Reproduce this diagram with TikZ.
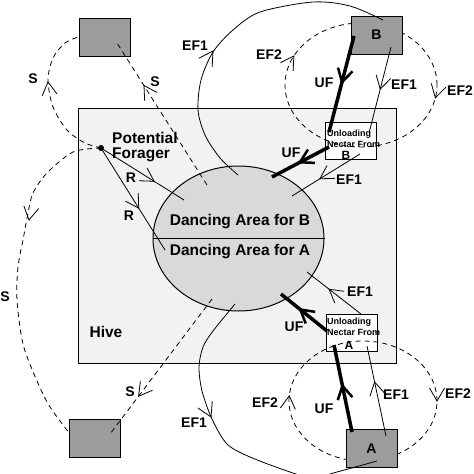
\documentclass[tikz,border=0pt]{standalone}
\usepackage{fontspec}
\setmainfont{Liberation Sans}
\usetikzlibrary{calc,shapes.geometric}
\definecolor{hivegray}{HTML}{F2F2F2}
\definecolor{dancegray}{HTML}{D9D9D9}
\definecolor{boxgray}{HTML}{9C9C9C}
\tikzset{
  lbl/.style={font=\fontsize{14}{14}\selectfont\bfseries, inner sep=0pt},
  mid/.style={font=\fontsize{12}{12}\selectfont\bfseries, inner sep=0pt},
  big/.style={font=\fontsize{15.5}{16}\selectfont\bfseries, inner sep=0pt},
  small/.style={font=\fontsize{9}{9}\selectfont\bfseries, inner sep=0pt},
  ln/.style={line width=0.8pt},
  dsh/.style={line width=0.8pt, dash pattern=on 5pt off 4pt},
  uf/.style={line width=3.5pt},
  hivebox/.style={draw, line width=1pt, fill=hivegray, inner sep=0pt},
  dance/.style={draw, line width=1pt, fill=dancegray, inner sep=0pt},
  ubox/.style={draw, line width=1pt, fill=white, minimum width=51pt, minimum height=37pt, inner sep=0pt},
  food/.style={draw, line width=1pt, fill=boxgray, minimum width=51pt, minimum height=38pt, inner sep=0pt, font=\fontsize{14}{14}\selectfont\bfseries},
}
% chevron: [line width]{tip}{direction angle}{arm length}
\newcommand\chv[4][0.8pt]{\draw[line width=#1, line join=miter, solid] (#2) ++(#3+150:#4) -- (#2) -- ++(#3-150:#4);}
\begin{document}
\begin{tikzpicture}[x=1pt,y=-1pt]
\useasboundingbox (0,0) rectangle (474,474);
\clip (0,0) rectangle (474,474);
\fill[white] (0,0) rectangle (474,474);
% hive and dancing area
\node[hivebox, minimum width=318pt, minimum height=255pt] (hive) at (237,235.5) {};
\node[dance, ellipse, minimum width=171pt, minimum height=145pt] (da) at (238.5,238.5) {};
\draw[line width=1pt] (da.west) -- (da.east);
% unloading boxes
\node[ubox] (uB) at (350.5,140.5) {};
\node[ubox] (uA) at (351.5,333) {};
% EF2 dashed loops
\draw[dsh] (361,85) ellipse [x radius=76pt, y radius=62pt];
\draw[dsh] (363,401) ellipse [x radius=74pt, y radius=60pt];
\chv{435.3,97.9}{104.6}{15}
\chv{293.9,55.9}{-56.9}{15}
\chv{437,401}{90}{15}
\chv{289.3,395.8}{-83.8}{15}
% food sources
\node[food] (fB) at (376.5,35) {B};
\node[food] (fA) at (371.5,448.5) {A};
\node[food] (fTL) at (104.5,37) {};
\node[food] (fBL) at (94.5,438) {};
% coordinates
\coordinate (pf) at (101,148);
\coordinate (r1e) at (184,200);
\coordinate (r2e) at (165,250);
\coordinate (s1e) at (fTL.west);
\coordinate (s2s) at (207,185);
\coordinate (s2e) at (117,43);
\coordinate (s3e) at (70,434);
\coordinate (s4s) at (212,299);
\coordinate (s4e) at (110,434);
\coordinate (et1s) at (238,175);
\coordinate (et1e) at (383,20);
\coordinate (eb1s) at (235,304);
\coordinate (eb1e) at (377,461);
\coordinate (bE1s) at (391,47);
\coordinate (bE1e) at (369,133);
\coordinate (bE2s) at (360,154);
\coordinate (bE2e) at (292,196);
\coordinate (bU1s) at (354,36);
\coordinate (bU1e) at (329,132);
\coordinate (bU2s) at (329,147);
\coordinate (bU2e) at (272,177);
\coordinate (aU1s) at (352,432);
\coordinate (aU1e) at (334,345);
\coordinate (aU2s) at (327,331);
\coordinate (aU2e) at (281,294);
\coordinate (aE1s) at (386,436);
\coordinate (aE1e) at (367,346);
\coordinate (aE2s) at (361,314);
\coordinate (aE2e) at (307,272);
% R lines
\draw[ln] (pf) -- (r1e);
\chv{$(pf)!0.64!(r1e)$}{32.1}{15}
\draw[ln] (pf) -- (r2e);
\chv{$(pf)!0.59!(r2e)$}{57.9}{15}
% S paths
\draw[dsh] plot[smooth] coordinates {(pf) (85,143) (67,130) (53,107) (48,80) (53,58) (65,43) (s1e)};
\chv{48,82}{-97}{15}
\draw[dsh] (s2s) -- (s2e);
\chv{$(s2s)!0.7!(s2e)$}{-122.4}{15}
\draw[dsh] plot[smooth] coordinates {(pf) (73,152) (47,173) (33,193) (28,213) (23,240) (18,267) (17,300) (23,344) (37,381) (50,407) (s3e)};
\chv{29,220}{100}{15}
\draw[dsh] (s4s) -- (s4e);
\chv{$(s4s)!0.72!(s4e)$}{127.1}{15}
% EF1 big arcs
\draw[ln] plot[smooth] coordinates {(et1s) (220,158) (205,135) (198,110) (201,80) (213,52) (233,30) (260,12) (313,2) (350,6) (et1e)};
\chv{213,51}{-57}{16}
\draw[ln] plot[smooth] coordinates {(eb1s) (213,331) (203,347) (199,367) (202,391) (212,419) (227,444) (250,457) (290,472) (313,478) (337,472) (eb1e)};
\chv{211,417}{64.7}{16}
% EF1 short lines
\draw[ln] (bE1s) -- (bE1e);
\chv{$(bE1s)!0.49!(bE1e)$}{104.3}{15}
\draw[ln] (bE2s) -- (bE2e);
\chv{$(bE2s)!0.59!(bE2e)$}{148.3}{15}
\draw[ln] (aE1s) -- (aE1e);
\chv{$(aE1s)!0.6!(aE1e)$}{-101.9}{15}
\draw[ln] (aE2s) -- (aE2e);
\chv{$(aE2s)!0.59!(aE2e)$}{-142.1}{15}
% UF thick lines
\draw[uf] (bU1s) -- (bU1e);
\chv[2.5pt]{$(bU1s)!0.48!(bU1e)$}{104.6}{15}
\draw[uf] (bU2s) -- (bU2e);
\chv[2.5pt]{$(bU2s)!0.51!(bU2e)$}{152.2}{15}
\draw[uf] (aU1s) -- (aU1e);
\chv[2.5pt]{$(aU1s)!0.53!(aU1e)$}{-101.7}{15}
\draw[uf] (aU2s) -- (aU2e);
\chv[2.5pt]{$(aU2s)!0.58!(aU2e)$}{-141.2}{15}
% potential forager
\fill (pf) circle (3pt);
\node[big, anchor=west] (pot) at (112,138) {Potential};
\node[big, anchor=west] (forg) at (112,155) {Forager};
\node[big] (hivet) at (106,332) {Hive};
\node[big] (dB) at (240,222) {Dancing Area for B};
\node[big] (dA) at (240,252) {Dancing Area for A};
% unloading texts
\node[small, anchor=west] (uBt1) at (327,134) {Unloading};
\node[small, anchor=west] (uBt2) at (327,144) {Nectar From};
\node[mid] (uBt3) at (346,155) {B};
\node[small, anchor=west] (uAt1) at (327,322) {Unloading};
\node[small, anchor=west] (uAt2) at (327,332) {Nectar From};
\node[mid] (uAt3) at (349,345) {A};
% labels
\node[lbl] (lS1) at (33,79) {S};
\node[lbl] (lS2) at (155,82) {S};
\node[lbl] (lS3) at (5,297) {S};
\node[lbl] (lS4) at (130,392) {S};
\node[lbl] (lR1) at (131,178) {R};
\node[lbl] (lR2) at (129,216) {R};
\node[lbl] (lE1) at (195,46) {EF1};
\node[lbl] (lE2) at (194,423) {EF1};
\node[lbl] (lE3) at (404,85) {EF1};
\node[lbl] (lE4) at (349,180) {EF1};
\node[lbl] (lE5) at (396,395) {EF1};
\node[lbl] (lE6) at (360,292) {EF1};
\node[lbl] (lF1) at (269,55) {EF2};
\node[lbl] (lF2) at (460,91) {EF2};
\node[lbl] (lF3) at (265,403) {EF2};
\node[lbl] (lF4) at (458,394) {EF2};
\node[lbl] (lU1) at (324,83) {UF};
\node[lbl] (lU2) at (291,153) {UF};
\node[lbl] (lU3) at (324,409) {UF};
\node[lbl] (lU4) at (294,327) {UF};
\end{tikzpicture}
\end{document}
